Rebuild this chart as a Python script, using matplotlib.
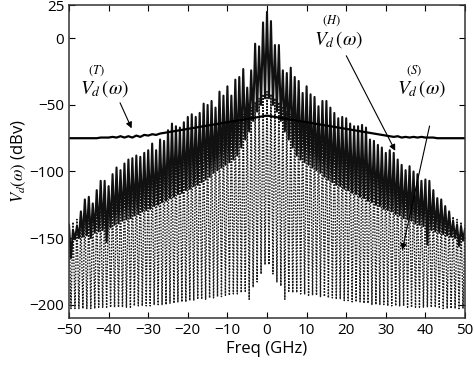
import matplotlib
matplotlib.use("Agg")
import matplotlib.pyplot as plt
import numpy as np

plt.rcParams['font.family'] = ['Open Sans', 'DejaVu Sans']
plt.rcParams['mathtext.fontset'] = 'stix'

# comb teeth positions (GHz), troughs sit half way between teeth
freq_ghz = np.arange(-50, 51)

# V_d^(H): peak of each tooth (-50 ... 50)
h_peak = [-140, -144, -141, -130, -121, -119, -124, -114, -107, -107,
          -111, -102, -97, -99, -94, -91, -90, -88, -89, -86,
          -84, -79, -84, -76, -77, -69, -64, -66, -67, -63,
          -59, -57, -59, -56, -49, -50, -47, -52, -40, -43,
          -36, -43, -31, -29, -23, -37, -24, -4, -6, 12,
          20,
          13, -5, -5, -24, -26, -22, -29, -32, -41, -36,
          -42, -44, -51, -47, -47, -52, -56, -60, -59, -60,
          -64, -66, -66, -65, -67, -76, -77, -80, -82, -86,
          -84, -86, -91, -95, -99, -96, -100, -102, -107, -106,
          -107, -114, -120, -121, -126, -130, -137, -140, -141, -143]

# V_d^(H): trough between teeth (-49.5 ... 49.5)
h_trough = [-165, -151, -150, -149, -148, -150, -146, -145, -144, -153,
            -142, -140, -139, -137, -136, -135, -133, -132, -130, -129,
            -128, -126, -125, -123, -122, -120, -119, -117, -116, -114,
            -113, -111, -110, -108, -106, -104, -101, -99, -97, -95,
            -93, -91, -88, -82, -76, -70, -62, -55, -50, -45,
            -45, -50, -55, -62, -70, -76, -82, -88, -91, -93,
            -95, -97, -99, -101, -104, -106, -108, -110, -111, -113,
            -114, -116, -117, -119, -120, -122, -123, -125, -126, -128,
            -129, -130, -132, -133, -135, -136, -137, -139, -140, -141,
            -155, -144, -145, -146, -147, -148, -149, -150, -156, -152]

# V_d^(S): tooth peaks (-50 ... 50)
s_peak = [-140, -138, -136, -134, -132, -130, -129, -127, -125, -123,
          -120, -118, -116, -114, -112, -110, -108, -106, -104, -102,
          -100, -98, -96, -94, -92, -90, -89, -87, -86, -84,
          -82, -80, -79, -77, -75, -74, -72, -70, -68, -66,
          -63, -62, -60, -59, -57, -55, -52, -48, -45, -42,
          -40,
          -42, -45, -48, -52, -55, -57, -59, -60, -62, -63,
          -66, -68, -70, -72, -74, -75, -77, -79, -80, -82,
          -84, -86, -87, -89, -90, -92, -94, -96, -98, -100,
          -102, -104, -106, -108, -110, -112, -114, -116, -118, -120,
          -123, -125, -127, -129, -130, -132, -134, -136, -138, -140]

# V_d^(S): floor between teeth (-49.5 ... 49.5)
s_trough = [-203, -203, -203, -203, -203, -203, -203, -202, -202, -202,
            -202, -202, -202, -202, -202, -202, -201, -201, -201, -201,
            -201, -200, -200, -200, -200, -199, -199, -198, -198, -198,
            -197, -197, -196, -196, -196, -195, -195, -194, -194, -193,
            -193, -192, -192, -191, -190, -196, -187, -183, -177, -170,
            -170, -177, -183, -186, -196, -190, -191, -191, -192, -192,
            -193, -193, -193, -194, -194, -195, -195, -196, -196, -197,
            -197, -198, -198, -198, -199, -199, -200, -200, -200, -200,
            -201, -201, -201, -201, -201, -202, -202, -202, -202, -202,
            -202, -202, -202, -202, -203, -203, -203, -203, -203, -203]

# V_d^(T) (-50 ... 50)
t_curve = [-75, -75, -75, -75, -75, -75, -75, -75, -74.5, -74.5,
           -74.5, -74, -74.5, -73.5, -74.5, -73.5, -74.5, -73, -74, -72.5,
           -73, -72, -72.5, -71.5, -71, -70.5, -70, -69.5, -69, -68.5,
           -68, -67.5, -67, -66.5, -66, -65.5, -65, -64.5, -64, -63.5,
           -63, -62.5, -62, -61.5, -61, -60.5, -60, -59.5, -59, -58.5,
           -58,
           -58.5, -59, -59.5, -60, -60.5, -61, -61.5, -62, -62.5, -63,
           -63.5, -64, -64.5, -65, -65.5, -66, -66.5, -67, -67.5, -68,
           -68.5, -69, -69.5, -70, -70.5, -71, -71.5, -72, -72.5, -73,
           -73.5, -74, -73.5, -74.5, -74, -74.5, -74, -74.5, -74, -74.5,
           -74.5, -74.5, -75, -75, -75, -75, -75, -75, -75, -75]


def comb(peaks, troughs):
    x = np.empty(2 * len(freq_ghz) - 1)
    y = np.empty_like(x)
    x[0::2] = freq_ghz
    x[1::2] = freq_ghz[:-1] + 0.5
    y[0::2] = peaks
    y[1::2] = troughs
    return x, y


fig = plt.figure(figsize=(4.74, 3.65), dpi=100)
ax = fig.add_axes([0.1456, 0.129, 0.8354, 0.857])

xs, ys = comb(s_peak, s_trough)
ax.plot(xs, ys, linestyle=(0, (1.2, 1.0)), color='#1a1a1a', lw=1.0)
xh, yh = comb(h_peak, h_trough)
ax.plot(xh, yh, '-', color='#111111', lw=1.5)
ax.plot(freq_ghz, t_curve, '-', color='black', lw=1.6)

ax.set_xlim(-50, 50)
ax.set_ylim(-210, 25)
ax.set_xticks(np.arange(-50, 51, 10))
ax.set_yticks([-200, -150, -100, -50, 0, 25])
ax.tick_params(direction='in', top=True, right=True, length=4, labelsize=11)
for s in ax.spines.values():
    s.set_linewidth(1.1)
    s.set_color('#333333')

ax.set_xlabel('Freq (GHz)', fontsize=12, labelpad=2)
ax.set_ylabel(r'$V_d(\omega)$ (dBv)', fontsize=12, labelpad=1)

arrow = dict(arrowstyle='-|>', lw=0.8, color='black', mutation_scale=9)
labels = [('T', -43.0, -24, -41.0, -38, (-37.4, -46.5), (-33.9, -69.5)),
          ('H', 16.2, 13.5, 18.0, -1, (19.7, -11.2), (32.7, -86.3)),
          ('S', 37.2, -24, 39.0, -38, (41.2, -63.8), (34.0, -161))]
for tag, sx, sy, vx, vy, start, end in labels:
    ax.text(sx, sy, r'$(%s)$' % tag, fontsize=9, ha='center', va='center')
    ax.text(vx, vy, r'$V_d\,(\omega)$', fontsize=14, ha='center', va='center')
    ax.annotate('', xy=end, xytext=start, arrowprops=arrow)

fig.savefig('out.png', dpi=100)
